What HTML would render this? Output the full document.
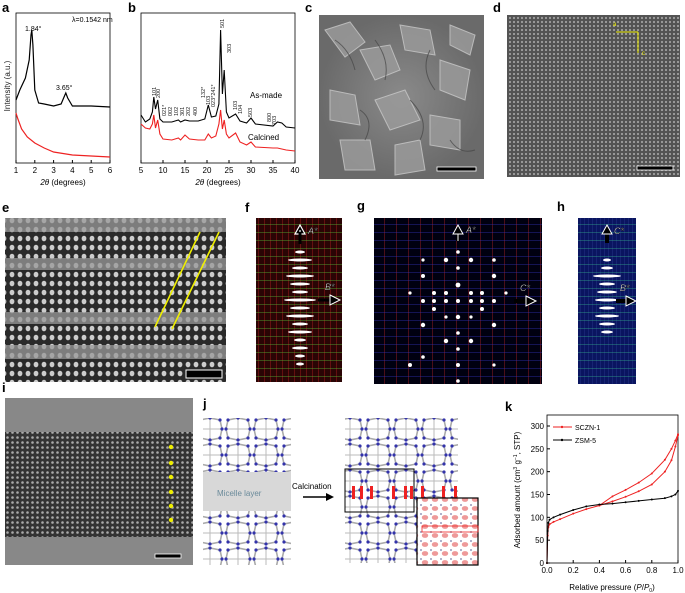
<!DOCTYPE html><html><head><meta charset="utf-8"><style>
body{margin:0;background:#fff;}
svg{display:block;font-family:"Liberation Sans",sans-serif;}
</style></head><body>
<svg width="685" height="593" viewBox="0 0 685 593">
<defs>
<pattern id="dots" width="4" height="4" patternUnits="userSpaceOnUse"><rect width="4" height="4" fill="#4a4a4a"/><circle cx="2" cy="2" r="1.1" fill="#aaa"/></pattern>
<pattern id="dotsE" width="8" height="9" patternUnits="userSpaceOnUse"><rect width="8" height="9" fill="#2a2a2a"/><ellipse cx="4" cy="4.5" rx="2.4" ry="2.8" fill="#ccc"/></pattern>
<pattern id="dotsI" width="5" height="5" patternUnits="userSpaceOnUse"><rect width="5" height="5" fill="#333"/><circle cx="2.5" cy="2.5" r="1.3" fill="#aaa"/></pattern>
<pattern id="gridF" width="6" height="8" patternUnits="userSpaceOnUse"><rect width="6" height="8" fill="#2a0505"/><path d="M0 0V8" stroke="#b22" stroke-width="0.8"/><path d="M0 0H6" stroke="#5b3" stroke-width="0.8"/></pattern>
<pattern id="gridG" width="12" height="8" patternUnits="userSpaceOnUse"><rect width="12" height="8" fill="#000010"/><path d="M0 0V8" stroke="#b22" stroke-width="0.8"/><path d="M0 0H12" stroke="#33b" stroke-width="0.8"/></pattern>
<pattern id="gridH" width="4" height="8" patternUnits="userSpaceOnUse"><rect width="4" height="8" fill="#0a1560"/><path d="M0 0V8" stroke="#2a3a90" stroke-width="0.8"/><path d="M0 0H4" stroke="#3a8" stroke-width="0.8"/></pattern>
<pattern id="zeo" width="28" height="26" patternUnits="userSpaceOnUse"><rect width="28" height="26" fill="#fff"/><path d="M4 4L14 2L24 4L26 13L24 22L14 24L4 22L2 13Z" fill="none" stroke="#aaa" stroke-width="1.6"/><path d="M14 2V24M2 13H26" stroke="#bbb" stroke-width="1"/><circle cx="4" cy="4" r="1.6" fill="#33a"/><circle cx="24" cy="4" r="1.6" fill="#33a"/><circle cx="14" cy="2" r="1.6" fill="#33a"/><circle cx="2" cy="13" r="1.6" fill="#33a"/><circle cx="26" cy="13" r="1.6" fill="#33a"/><circle cx="4" cy="22" r="1.6" fill="#33a"/><circle cx="24" cy="22" r="1.6" fill="#33a"/><circle cx="14" cy="24" r="1.6" fill="#33a"/></pattern>
<pattern id="pinkp" width="10" height="9" patternUnits="userSpaceOnUse"><rect width="10" height="9" fill="#fff"/><ellipse cx="5" cy="4.5" rx="3.2" ry="2.4" fill="#e99"/><circle cx="1" cy="1" r="1" fill="#99b"/></pattern>
<radialGradient id="semg"><stop offset="0" stop-color="#8a8a8a"/><stop offset="1" stop-color="#6a6a6a"/></radialGradient>
</defs>

<g font-weight="bold" font-size="13" fill="#000">
<text x="2" y="12">a</text><text x="128" y="12">b</text><text x="305" y="12">c</text><text x="493" y="12">d</text>
<text x="2" y="212">e</text><text x="245" y="212">f</text><text x="357" y="210">g</text><text x="557" y="211">h</text>
<text x="2" y="392">i</text><text x="203" y="408">j</text><text x="505" y="411">k</text>
</g>

<g id="pa">
<rect x="16" y="13" width="94" height="150" fill="none" stroke="#000" stroke-width="0.8"/>
<text x="72" y="22" font-size="7">λ=0.1542 nm</text>
<text x="25" y="31" font-size="7">1.84°</text>
<text x="56" y="90" font-size="7">3.65°</text>
<text transform="translate(10,86) rotate(-90)" font-size="8" text-anchor="middle" fill="#222">Intensity (a.u.)</text>
<text x="63" y="185" font-size="8" text-anchor="middle"><tspan font-style="italic">2θ</tspan> (degrees)</text>
</g>
<g id="pb">
<rect x="141" y="13" width="154" height="150" fill="none" stroke="#000" stroke-width="0.8"/>
<text x="250" y="98" font-size="8">As-made</text>
<text x="248" y="140" font-size="8">Calcined</text>
<text x="218" y="185" font-size="8" text-anchor="middle"><tspan font-style="italic">2θ</tspan> (degrees)</text>
<g font-size="5.5" fill="#222">
<text transform="translate(156,96) rotate(-90)">101</text><text transform="translate(160,98) rotate(-90)">200</text>
<text transform="translate(166,116) rotate(-90)">021*</text><text transform="translate(172,116) rotate(-90)">002</text>
<text transform="translate(178,116) rotate(-90)">102</text><text transform="translate(184,116) rotate(-90)">301</text>
<text transform="translate(190,116) rotate(-90)">202</text><text transform="translate(197,116) rotate(-90)">400</text>
<text transform="translate(205,98) rotate(-90)">132*</text><text transform="translate(210,105) rotate(-90)">103</text>
<text transform="translate(215,107) rotate(-90)">023*241*</text>
<text transform="translate(224,28) rotate(-90)">501</text><text transform="translate(231,53) rotate(-90)">303</text>
<text transform="translate(237,110) rotate(-90)">103</text><text transform="translate(242,114) rotate(-90)">104</text>
<text transform="translate(252,117) rotate(-90)">503</text><text transform="translate(271,122) rotate(-90)">800</text><text transform="translate(276,125) rotate(-90)">703</text>
</g>
</g>

<g>
<rect x="319" y="15" width="165" height="164" fill="url(#semg)"/>
<g fill="#9a9a9a" stroke="#c8c8c8" stroke-width="1" opacity="0.85">
<path d="M325 30l25 -8l15 20l-20 15z"/><path d="M360 50l30 -5l10 25l-25 10z"/><path d="M400 25l30 5l5 25l-30 -5z"/><path d="M440 60l30 10l-5 30l-25 -10z"/><path d="M330 90l25 5l5 30l-30 -5z"/><path d="M375 100l30 -10l15 30l-30 10z"/><path d="M430 115l30 5l0 30l-30 -5z"/><path d="M340 140l30 0l5 30l-30 0z"/><path d="M395 145l25 -5l5 30l-30 5z"/><path d="M450 25l25 10l-5 20l-20 -10z"/>
</g>
<g fill="none" stroke="#444" stroke-width="1" opacity="0.7"><path d="M335 40q15 10 20 30M375 40q15 20 10 40M430 50q-10 20 5 40M360 110q15 10 5 30M410 100q20 20 10 40M450 140q10 15 25 10"/></g>
<rect x="437" y="167" width="39" height="4" fill="#000" stroke="#fff" stroke-width="0.8"/>
</g>
<g>
<rect x="507" y="15" width="173" height="162" fill="url(#dots)"/>
<rect x="507" y="15" width="173" height="162" fill="#777" opacity="0.2"/>
<path d="M638 32H616M638 32V53" stroke="#ee0" stroke-width="1" fill="none"/>
<text x="613" y="26" font-size="6" fill="#ee0">a</text><text x="642" y="55" font-size="6" fill="#ee0">c</text>
<rect x="637" y="166" width="36" height="4" fill="#000" stroke="#fff" stroke-width="0.8"/>
</g>

<g>
<rect x="5" y="218" width="221" height="164" fill="url(#dotsE)"/>
<g fill="#999" opacity="0.75"><rect x="5" y="218" width="221" height="14"/><rect x="5" y="258" width="221" height="12"/><rect x="5" y="312" width="221" height="12"/><rect x="5" y="345" width="221" height="14"/></g>
<path d="M155 327L200 232M172 329L219 232" stroke="#ee0" stroke-width="1.6"/>
<rect x="186" y="370" width="36" height="8" fill="#000" stroke="#fff" stroke-width="1"/>
</g>
<g>
<rect x="256" y="218" width="86" height="164" fill="url(#gridF)"/>
<g fill="#fff"><ellipse cx="300" cy="252" rx="5" ry="1.5"/><ellipse cx="300" cy="260" rx="12" ry="1.5"/><ellipse cx="300" cy="268" rx="8" ry="1.5"/><ellipse cx="300" cy="276" rx="14" ry="1.5"/><ellipse cx="300" cy="284" rx="10" ry="1.5"/><ellipse cx="300" cy="292" rx="8" ry="1.5"/><ellipse cx="300" cy="300" rx="16" ry="1.5"/><ellipse cx="300" cy="308" rx="10" ry="1.5"/><ellipse cx="300" cy="316" rx="14" ry="1.5"/><ellipse cx="300" cy="324" rx="8" ry="1.5"/><ellipse cx="300" cy="332" rx="12" ry="1.5"/><ellipse cx="300" cy="340" rx="6" ry="1.5"/><ellipse cx="300" cy="348" rx="8" ry="1.5"/><ellipse cx="300" cy="356" rx="5" ry="1.5"/><ellipse cx="300" cy="364" rx="4" ry="1.5"/></g>
<path d="M300 244V230M295 234L300 225L305 234Z" stroke="#fff" stroke-width="1.2" fill="#000"/><path d="M300 244V232" stroke="#000" stroke-width="3"/>
<text x="308" y="234" font-size="9" font-style="italic" fill="#fff" stroke="#000" stroke-width="0.3">A*</text>
<path d="M318 300H332" stroke="#000" stroke-width="3"/><path d="M330 295L340 300L330 305Z" fill="#000" stroke="#fff" stroke-width="1"/>
<text x="325" y="290" font-size="9" font-style="italic" fill="#fff" stroke="#000" stroke-width="0.3">B*</text>
</g>
<g>
<rect x="374" y="218" width="168" height="166" fill="url(#gridG)"/>
<g fill="#fff">
<circle cx="458" cy="252" r="1.8"/><circle cx="446" cy="260" r="2.2"/><circle cx="471" cy="260" r="2.2"/><circle cx="423" cy="260" r="1.6"/><circle cx="494" cy="260" r="1.8"/><circle cx="458" cy="268" r="1.8"/><circle cx="423" cy="276" r="2"/><circle cx="458" cy="285" r="2.4"/><circle cx="494" cy="276" r="2.2"/><circle cx="410" cy="293" r="1.6"/><circle cx="434" cy="293" r="2"/><circle cx="446" cy="293" r="2"/><circle cx="471" cy="293" r="2"/><circle cx="482" cy="293" r="2"/><circle cx="506" cy="293" r="1.6"/><circle cx="423" cy="301" r="2"/><circle cx="434" cy="301" r="2"/><circle cx="446" cy="301" r="2"/><circle cx="458" cy="301" r="2"/><circle cx="471" cy="301" r="2"/><circle cx="482" cy="301" r="2"/><circle cx="494" cy="301" r="2"/><circle cx="434" cy="309" r="2"/><circle cx="458" cy="317" r="2.2"/><circle cx="482" cy="309" r="2"/><circle cx="423" cy="325" r="2.2"/><circle cx="494" cy="325" r="2.2"/><circle cx="458" cy="333" r="1.8"/><circle cx="446" cy="341" r="2.2"/><circle cx="471" cy="341" r="2.2"/><circle cx="458" cy="349" r="1.8"/><circle cx="423" cy="357" r="1.8"/><circle cx="410" cy="365" r="2"/><circle cx="458" cy="365" r="2"/><circle cx="494" cy="365" r="1.6"/><circle cx="458" cy="381" r="1.8"/><circle cx="446" cy="317" r="1.6"/><circle cx="471" cy="317" r="1.6"/>
</g>
<path d="M458 241V230" stroke="#000" stroke-width="4"/><path d="M458 241V230" stroke="#fff" stroke-width="1" fill="none"/><path d="M453 234L458 225L463 234Z" fill="#000" stroke="#fff" stroke-width="1"/>
<text x="466" y="233" font-size="9" font-style="italic" fill="#fff" stroke="#000" stroke-width="0.3">A*</text>
<path d="M514 301H528" stroke="#000" stroke-width="4"/><path d="M526 296L536 301L526 306Z" fill="#000" stroke="#fff" stroke-width="1"/>
<text x="520" y="291" font-size="9" font-style="italic" fill="#fff" stroke="#000" stroke-width="0.3">C*</text>
</g>
<g>
<rect x="578" y="218" width="58" height="166" fill="url(#gridH)"/>
<g fill="#fff"><ellipse cx="607" cy="260" rx="4" ry="1.5"/><ellipse cx="607" cy="268" rx="6" ry="1.5"/><ellipse cx="607" cy="276" rx="14" ry="1.5"/><ellipse cx="607" cy="284" rx="8" ry="1.5"/><ellipse cx="607" cy="292" rx="10" ry="1.5"/><ellipse cx="607" cy="300" rx="12" ry="1.5"/><ellipse cx="607" cy="308" rx="8" ry="1.5"/><ellipse cx="607" cy="316" rx="12" ry="1.5"/><ellipse cx="607" cy="324" rx="8" ry="1.5"/><ellipse cx="607" cy="332" rx="6" ry="1.5"/></g>
<path d="M607 243V230" stroke="#000" stroke-width="4"/><path d="M602 234L607 225L612 234Z" fill="#000" stroke="#fff" stroke-width="1"/>
<text x="614" y="234" font-size="9" font-style="italic" fill="#fff" stroke="#000" stroke-width="0.3">C*</text>
<path d="M616 301H628" stroke="#000" stroke-width="4"/><path d="M626 296L636 301L626 306Z" fill="#000" stroke="#fff" stroke-width="1"/>
<text x="620" y="291" font-size="9" font-style="italic" fill="#fff" stroke="#000" stroke-width="0.3">B*</text>
</g>

<g>
<rect x="5" y="398" width="188" height="167" fill="#888"/>
<rect x="5" y="432" width="188" height="105" fill="url(#dotsI)"/>
<g fill="#ee0"><circle cx="171" cy="447" r="2.2"/><circle cx="171" cy="463" r="2.2"/><circle cx="171" cy="477" r="2.2"/><circle cx="171" cy="492" r="2.2"/><circle cx="171" cy="506" r="2.2"/><circle cx="171" cy="520" r="2.2"/></g>
<rect x="155" y="554" width="26" height="4" fill="#000" stroke="#fff" stroke-width="0.8"/>
</g>
<g>
<rect x="203" y="418" width="88" height="147" fill="url(#zeo)"/>
<rect x="203" y="472" width="88" height="39" fill="#d8d8d8"/>
<text x="217" y="496" font-size="8" fill="#6a8a9a">Micelle layer</text>
<text x="292" y="489" font-size="8">Calcination</text>
<path d="M303 497H329" stroke="#000" stroke-width="1.5"/><path d="M326 493L334 497L326 501Z" fill="#000"/>
<rect x="345" y="418" width="113" height="145" fill="url(#zeo)"/>
<g fill="#e22"><rect x="352" y="486" width="3" height="13"/><rect x="360" y="486" width="3" height="13"/><rect x="370" y="486" width="3" height="13"/><rect x="392" y="486" width="3" height="13"/><rect x="404" y="486" width="3" height="13"/><rect x="410" y="486" width="3" height="13"/><rect x="421" y="486" width="3" height="13"/><rect x="442" y="486" width="3" height="13"/><rect x="454" y="486" width="3" height="13"/></g>
<rect x="345" y="469" width="69" height="43" fill="none" stroke="#000" stroke-width="1"/>
<rect x="417" y="498" width="61" height="67" fill="url(#pinkp)" stroke="#000" stroke-width="1.2"/>
<rect x="422" y="526" width="56" height="6" fill="none" stroke="#e22" stroke-width="0.8"/>
</g>

<g id="pk">
<rect x="547" y="415" width="131" height="148" fill="none" stroke="#000" stroke-width="0.8"/>
<text transform="translate(520,490) rotate(-90)" font-size="8" text-anchor="middle">Adsorbed amount (cm<tspan font-size="5" dy="-3">3</tspan><tspan dy="3"> g</tspan><tspan font-size="5" dy="-3">−1</tspan><tspan dy="3">, STP)</tspan></text>
<text x="612" y="590" font-size="8" text-anchor="middle">Relative pressure (<tspan font-style="italic">P</tspan>/<tspan font-style="italic">P</tspan><tspan font-size="5" dy="2">0</tspan><tspan dy="-2">)</tspan></text>
<g>
<path d="M553 427H572" stroke="#e22" stroke-width="1"/><circle cx="562" cy="427" r="1.2" fill="#e22"/>
<text x="575" y="430" font-size="7">SCZN-1</text>
<path d="M553 440H572" stroke="#000" stroke-width="1"/><circle cx="562" cy="440" r="1.2" fill="#000"/>
<text x="575" y="443" font-size="7">ZSM-5</text>
</g>
</g>
</svg>
<script>
var aX = [1,1.2,1.5,1.7,1.8,1.84,1.9,2.0,2.2,2.5,3,3.4,3.6,3.65,3.75,4,5,6];
var aAsMade = [64,74,86,104,129,134,119,74,61,60,58,60,69,71,66,58,58,57];
var aRedX = [1,1.1,1.3,1.6,2,2.5,3,4,5,6];
var aCalcined = [51,45,35,27,21,16,12,9,8,7];
var aTicks = [1,2,3,4,5,6];
var bX = [5,6,7,7.6,7.9,8.3,8.8,9.3,10,12,13.5,14,15,16,18,19.5,20.3,21,22,22.7,23.1,23.5,23.9,24.4,25,26.5,27.5,29,30,31,35,36,37,38,40];
var bAsMade = [49,42,45,52,67,55,64,45,42,42,44,42,44,43,43,45,59,47,48,60,134,70,94,52,46,50,43,41,46,40,38,42,41,37,36];
var bCalcined = [40,36,35,40,49,36,44,30,25,24,26,24,29,25,24,24,30,26,28,40,54,35,44,30,26,31,22,19,22,17,16,16,15,14,13];
var bTicks = [5,10,15,20,25,30,35,40];
var kP = [0,0.005,0.01,0.02,0.05,0.1,0.2,0.3,0.4,0.5,0.6,0.7,0.8,0.9,0.95,0.98,1.0];
var kSczAds = [0,60,78,85,90,96,108,118,126,135,145,157,172,200,225,255,280];
var kSczDes = [null,null,null,null,null,null,null,null,126,146,160,176,196,226,250,268,282];
var kZsmAds = [0,70,88,95,100,106,116,124,128,130,133,136,139,142,146,150,158];
var kTicksY = [0,50,100,150,200,250,300];
var kTicksX = [0,0.2,0.4,0.6,0.8,1.0];

var NS="http://www.w3.org/2000/svg";
function mk(parent,tag,attrs){var e=document.createElementNS(NS,tag);for(var k in attrs)e.setAttribute(k,attrs[k]);parent.appendChild(e);return e;}
function pathD(xs,ys,fx,fy){var d="";for(var i=0;i<xs.length;i++){if(ys[i]==null)continue;d+=(d?"L":"M")+fx(xs[i]).toFixed(1)+" "+fy(ys[i]).toFixed(1);}return d;}

var ga=document.getElementById('pa');
var axX=function(v){return 16+(v-1)/5*94;}, axY=function(v){return 164-v;};
var la=mk(ga,'path',{d:pathD(aX,aAsMade,axX,axY),fill:'none',stroke:'#000','stroke-width':1.2});


var lr=mk(ga,'path',{d:pathD(aRedX,aCalcined,axX,axY),fill:'none',stroke:'#e22','stroke-width':1.2});


aTicks.forEach(function(t){var x=axX(t);mk(ga,'line',{x1:x,x2:x,y1:163,y2:160,stroke:'#000'});
var tx=mk(ga,'text',{x:x,y:173,'font-size':8,'text-anchor':'middle'});tx.textContent=t;

});

var gb=document.getElementById('pb');
var bxX=function(v){return 141+(v-5)/35*154;}, bxY=function(v){return 164-v;};
var lb1=mk(gb,'path',{d:pathD(bX,bAsMade,bxX,bxY),fill:'none',stroke:'#000','stroke-width':1.1});


var lb2=mk(gb,'path',{d:pathD(bX,bCalcined,bxX,bxY),fill:'none',stroke:'#e22','stroke-width':1.1});


bTicks.forEach(function(t){var x=bxX(t);mk(gb,'line',{x1:x,x2:x,y1:163,y2:160,stroke:'#000'});
var tx=mk(gb,'text',{x:x,y:173,'font-size':8,'text-anchor':'middle'});tx.textContent=t;

});

var gk=document.getElementById('pk');
var kx=function(v){return 547+v*131;}, ky=function(v){return 563-v/300*137;};
kTicksY.forEach(function(t){var y=ky(t);mk(gk,'line',{x1:547,x2:550,y1:y,y2:y,stroke:'#000'});
var tx=mk(gk,'text',{x:544,y:y+3,'font-size':8,'text-anchor':'end'});tx.textContent=t;

});
kTicksX.forEach(function(t){var x=kx(t);mk(gk,'line',{x1:x,x2:x,y1:563,y2:560,stroke:'#000'});
var tx=mk(gk,'text',{x:x,y:573,'font-size':8,'text-anchor':'middle'});tx.textContent=t.toFixed(1);

});
[[kSczAds,'#e22','series-sczn1-adsorption'],[kSczDes,'#e22','series-sczn1-desorption'],[kZsmAds,'#000','series-zsm5']].forEach(function(s){
var p=mk(gk,'path',{d:pathD(kP,s[0],kx,ky),fill:'none',stroke:s[1],'stroke-width':1});


kP.forEach(function(v,i){if(s[0][i]==null)return;var c=mk(gk,'circle',{cx:kx(v),cy:ky(s[0][i]),r:1,fill:s[1]});

});
});
</script>
</body></html>
